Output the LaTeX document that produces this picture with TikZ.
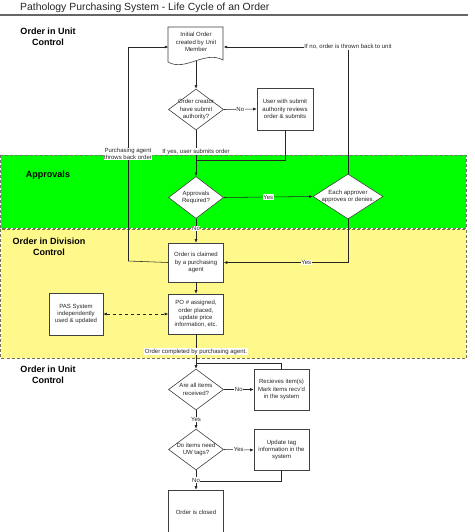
\documentclass[tikz,border=0pt]{standalone}
\usepackage{fontspec}
\setmainfont{Liberation Sans}
\usetikzlibrary{shapes.geometric,arrows.meta}
\begin{document}
\begin{tikzpicture}[x=1pt,y=-1pt,
 txt/.style={font=\fontsize{6}{7.3}\selectfont, align=center, inner sep=0.5pt, text=black!85},
 box/.style={draw=black!75, line width=0.6pt, fill=white, minimum width=55pt, minimum height=41pt, inner sep=0pt, align=center, font=\fontsize{6}{7.3}\selectfont, text=black!85},
 dia/.style={draw=black!75, line width=0.6pt, fill=white, diamond, inner sep=0pt},
 conn/.style={line width=0.55pt, draw=black!85},
 arr/.style={conn, -{Latex[length=3.5pt,width=3pt]}},
 lbl/.style={txt, fill=white, inner sep=0.6pt},
 lane/.style={font=\bfseries\fontsize{9}{10.5}\selectfont, align=center},
 band/.style={draw=black!55, line width=0.6pt, dash pattern=on 3pt off 2pt},
]
\useasboundingbox (0,0) rectangle (474,532);
\fill[white] (0,0) rectangle (474,532);

% title
\node[anchor=west, font=\fontsize{10.4}{12}\selectfont, text=black!85, inner sep=0pt] (title) at (20,8) {Pathology Purchasing System - Life Cycle of an Order};
\draw[black!60, line width=1.2pt] (0,15) -- (468,15);

% bands
\fill[green] (0.5,155) rectangle (466,228);
\draw[band] (0.5,155) rectangle (466,228);
\fill[yellow!45] (0.5,229) rectangle (466,358);
\draw[band, draw=black!45!yellow!70!black] (0.5,229) rectangle (466,358);

% lane headings
\node[lane] (lane1) at (48,37) {Order in Unit\\Control};
\node[lane] (lane2) at (48,175) {Approvals};
\node[lane] (lane3) at (49,247) {Order in Division\\Control};
\node[lane] (lane4) at (48,375) {Order in Unit\\Control};

% document shape
\node[minimum width=55pt, minimum height=40pt, inner sep=0pt] (doc) at (196,47) {};
\draw[draw=black!75, line width=0.6pt, fill=white] (168,27) -- (223,27) -- (223,60) .. controls (205,50) and (185,72) .. (168,62) -- cycle;
\node[txt] (doctext) at (196,42) {Initial Order\\created by Unit\\Member};

% decisions and boxes
\node[dia, minimum width=55pt, minimum height=41pt] (d1) at (196,109.5) {};
\node[txt] (d1t) at (d1) {Order creator\\have submit\\authority?};
\node[box, minimum width=56pt, minimum height=42pt] (b1) at (285,109) {User with submit\\authority reviews\\order \& submits};

\node[dia, minimum width=55pt, minimum height=42pt] (d2) at (196,197.5) {};
\node[txt] (d2t) at (d2) {Approvals\\Required?};
\node[dia, minimum width=70pt, minimum height=45pt] (d3) at (348,196.5) {};
\node[txt] (d3t) at (d3) {Each approver\\approves or denies.};

\node[box, minimum height=39pt] (claimed) at (196,262.5) {Order is claimed\\by a purchasing\\agent};
\node[box, minimum height=40pt] (po) at (196,314) {PO \# assigned,\\order placed,\\update price\\information, etc.};
\node[box, minimum width=54pt, minimum height=42pt] (pas) at (76,314) {PAS System\\independently\\used \& updated};

\node[dia, minimum width=55pt, minimum height=41pt] (d4) at (196,389.5) {};
\node[txt] (d4t) at (d4) {Are all items\\received?};
\node[box, minimum height=41pt] (recv) at (281.5,389.5) {Recieves item(s)\\Mark items recv'd\\in the system};

\node[dia, minimum width=55pt, minimum height=41pt] (d5) at (196,449.5) {};
\node[txt] (d5t) at (d5) {Do items need\\UW tags?};
\node[box, minimum height=41pt] (upd) at (281.5,450) {Update tag\\information in the\\system};

\node[box, minimum height=44pt] (closed) at (196,512) {Order is closed};

% junctions
\coordinate (j1) at (196,160);
\coordinate (j4) at (196,363);
\coordinate (j5) at (196,481);
\coordinate (c9) at (128,261);

% connectors
\draw[arr] ([yshift=6pt]doc.south) -- (d1.north);
\draw[arr] (d1.east) -- node[lbl]{No} (b1.west);
\draw[conn] (b1.south) |- (j1);
\draw[arr] (d1.south) -- node[lbl, pos=0.47]{If yes, user submits order} (d2.north);
\draw[arr] (d2.east) -- node[lbl]{Yes} (d3.west);
\draw[arr] (d2.south) -- node[lbl, pos=0.4]{No} (claimed.north);
\draw[arr] (d3.south) |- node[lbl, pos=0.668]{Yes} (claimed.east);
\draw[arr] (d3.north) |- node[lbl]{If no, order is thrown back to unit} (doc.east);
\draw[conn] (claimed.west) -- (c9);
\draw[arr] (c9) |- node[lbl, pos=0.25]{Purchasing agent\\throws back order} (doc.west);
\draw[arr] (claimed.south) -- (po.north);
\draw[conn, dashed, {Latex[length=3.5pt,width=3pt]}-{Latex[length=3.5pt,width=3pt]}] (pas.east) -- (po.west);
\draw[arr] (po.south) -- node[lbl]{Order completed by purchasing agent.} (d4.north);
\draw[conn] (recv.north) |- (j4);
\draw[arr] (d4.east) -- node[lbl]{No} (recv.west);
\draw[arr] (d4.south) -- node[lbl]{Yes} (d5.north);
\draw[arr] (d5.east) -- node[lbl]{Yes} (upd.west);
\draw[conn] (upd.south) |- (j5);
\draw[arr] (d5.south) -- node[lbl]{No} (closed.north);
\end{tikzpicture}
\end{document}
